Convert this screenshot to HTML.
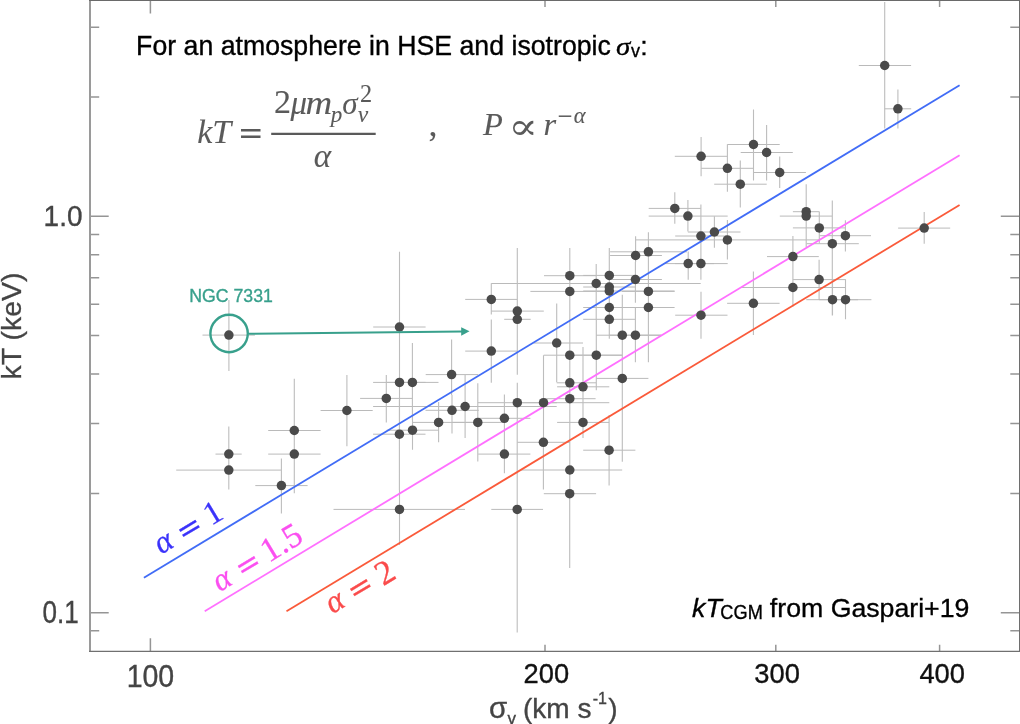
<!DOCTYPE html>
<html><head><meta charset="utf-8"><title>kT vs sigma_v</title><style>
html,body{margin:0;padding:0;background:#fff;}
body{width:1020px;height:724px;overflow:hidden;}
svg{display:block;}
</style></head><body>
<svg width="1020" height="724" viewBox="0 0 1020 724">
<rect width="1020" height="724" fill="#fff"/>
<path d="M202.5 335.1H254.9M215.5 454.1H241.7M176.2 470.1H281.2M255.3 485.6H307.6M268.2 430.5H320.6M268.2 454.1H320.6M320.6 410.5H372.7M360.1 398.4H412.4M373.2 327H425.6M373.1 382.4H425.6M386 382.4H438.5M373.1 434.2H425.5M386.7 430.2H438.6M333.5 509.4H465M412.5 422.4H477.8M425.7 374.6H478.2M425.5 410.3H478.8M373.1 406.5H556.7M452 422.4H504.4M477.8 418.3H530.4M478.2 454.1H530.4M477.8 402.7H556.9M491.3 509.4H543M465.2 299.4H517.3M465.2 351.1H517.3M491.3 311.1H543.8M504.2 319.3H530.7M544 275.7H596M583.2 275.4H635.4M491.3 283.5H700.7M610.1 279.5H661.9M530.4 291.4H609.3M583.2 287H635.4M583.2 291H674.6M622 291.4H674.6M583.2 307.5H635.4M622 307.5H674.6M583.2 319.3H635.4M596.2 335.2H661.5M609 335.2H661.5M675.2 315.2H727.5M533.5 343H583M543.7 355.2H622.3M570 355.2H622.3M596.2 378.4H648.4M556.7 382.8H596M557.1 386.8H609.3M543.7 398.7H595.6M517.3 402.7H609.3M557.1 422.4H609.1M517.3 442.3H569.8M583.2 450.2H635.4M521 470H622.2M543.8 493.7H596.1M610.1 255.5H661.9M610.1 251.8H687M648.7 208.4H700.9M648.7 216.1H727.7M675.2 236H727M687.9 232H740.5M636 239.9H819.6M663.6 263.6H714M675 263.6H727.7M674.8 156.3H727.4M701.1 168.3H753.2M727.4 144.5H779.7M740.7 152.5H792.8M753.5 172.5H805.9M714.2 184.2H766.7M858.8 65.5H911.1M884.7 108.8H911.2M792.9 211.7H819.6M779.8 216.1H832.1M792.9 227.9H845.1M819.6 235.7H871M806.6 243.7H858.8M767 256.6H818.8M792.9 279.6H845.5M740.4 287.5H845.5M806.3 299.7H858M819 299.7H871.4M727.1 303.3H779.6M898.1 228.1H950.2" stroke="#bababa" stroke-width="1" fill="none"/>
<path d="M228.9 300V371M228.8 426.5V462M228.8 462V489.5M281.4 458.4V513.6M294.3 378.8V442M294.3 442V493.3M346.9 374.9V446.3M386.3 374.9V422.4M399.5 251.8V360M399.5 360V434M412.4 343V420M399.4 400V490M412.5 410V449.7M399.5 490V545M438.6 401.9V442.3M451.6 339.4V395M452 395V433.6M465.1 374.9V437.9M477.8 383.2V461.6M504.4 394.6V440M504.4 440V473.3M517.3 382.8V420M517.2 420V632.5M491.3 283.3V314.6M491.3 319.6V382.8M517.3 248.1V315M517.3 315V374.7M569.8 248.1V283M609.3 248.1V283M596.2 264V320M635.4 262V302.8M569.8 283V320M609.3 283V300M609.3 285V310M648.4 270V305M609.3 300V330M648.4 300V362.3M609.3 310V338.7M622.3 294.7V360M635.4 307.3V362.3M701 291.8V338.7M556.7 303.4V382.2M569.8 320V382M596.3 320V390.3M622.3 360V461.8M569.8 360V398.7M583 347.1V410M569.8 382V430M543.5 355.2V442M583 400V437.9M543.4 442V489.5M609.1 414.9V485.4M569.8 430V493.7M569.7 470V568M635.6 236.3V262M648.4 232.2V270M674.8 192.2V223.8M687.9 200.1V231.6M700.9 204.5V250M714.4 216.3V247.8M727.4 220V259.6M688.2 251.5V279.8M700.9 250V279.8M701.1 137V176.2M727.4 144.2V191.8M753.5 109.4V180.4M766.6 124.9V180.4M779.7 156.6V187.9M740.3 160.5V207.4M884.7 2.1V128.5M897.9 89.5V128.5M806.2 184.2V214M806.2 214V247.2M819.3 212.1V243.4M845.4 220.2V251.5M832.3 200.5V315.4M792.9 236V306.8M819.1 259.7V299.7M792.9 270V306.8M832.5 280V315.4M845.5 279.3V319.3M753.4 271.5V335M924.2 212.1V243.8" stroke="#bdbdbd" stroke-width="1.1" fill="none"/>
<path d="M143.9 577.8 L959.6 85.3" stroke="#416cf6" stroke-width="1.8" fill="none"/>
<path d="M204.7 611.3 L959.6 155.3" stroke="#ff70ff" stroke-width="1.8" fill="none"/>
<path d="M286.5 611.3 L959.6 205" stroke="#fa5a3a" stroke-width="1.8" fill="none"/>
<g fill="#4a4a4a"><circle cx="228.9" cy="335.1" r="4.75"/><circle cx="228.8" cy="454.1" r="4.75"/><circle cx="228.8" cy="470.1" r="4.75"/><circle cx="281.4" cy="485.6" r="4.75"/><circle cx="294.3" cy="430.5" r="4.75"/><circle cx="294.3" cy="454.1" r="4.75"/><circle cx="346.9" cy="410.5" r="4.75"/><circle cx="386.3" cy="398.4" r="4.75"/><circle cx="399.5" cy="327" r="4.75"/><circle cx="399.5" cy="382.4" r="4.75"/><circle cx="412.4" cy="382.4" r="4.75"/><circle cx="399.4" cy="434.2" r="4.75"/><circle cx="412.5" cy="430.2" r="4.75"/><circle cx="399.5" cy="509.4" r="4.75"/><circle cx="438.6" cy="422.4" r="4.75"/><circle cx="451.6" cy="374.6" r="4.75"/><circle cx="452" cy="410.3" r="4.75"/><circle cx="465.1" cy="406.5" r="4.75"/><circle cx="477.8" cy="422.4" r="4.75"/><circle cx="504.4" cy="418.3" r="4.75"/><circle cx="504.4" cy="454.1" r="4.75"/><circle cx="517.3" cy="402.7" r="4.75"/><circle cx="517.2" cy="509.4" r="4.75"/><circle cx="491.3" cy="299.4" r="4.75"/><circle cx="491.3" cy="351.1" r="4.75"/><circle cx="517.3" cy="311.1" r="4.75"/><circle cx="517.3" cy="319.3" r="4.75"/><circle cx="569.8" cy="275.7" r="4.75"/><circle cx="609.3" cy="275.4" r="4.75"/><circle cx="596.2" cy="283.5" r="4.75"/><circle cx="635.4" cy="279.5" r="4.75"/><circle cx="569.8" cy="291.4" r="4.75"/><circle cx="609.3" cy="287" r="4.75"/><circle cx="609.3" cy="291" r="4.75"/><circle cx="648.4" cy="291.4" r="4.75"/><circle cx="609.3" cy="307.5" r="4.75"/><circle cx="648.4" cy="307.5" r="4.75"/><circle cx="609.3" cy="319.3" r="4.75"/><circle cx="622.3" cy="335.2" r="4.75"/><circle cx="635.4" cy="335.2" r="4.75"/><circle cx="701" cy="315.2" r="4.75"/><circle cx="556.7" cy="343" r="4.75"/><circle cx="569.8" cy="355.2" r="4.75"/><circle cx="596.3" cy="355.2" r="4.75"/><circle cx="622.3" cy="378.4" r="4.75"/><circle cx="569.8" cy="382.8" r="4.75"/><circle cx="583" cy="386.8" r="4.75"/><circle cx="569.8" cy="398.7" r="4.75"/><circle cx="543.5" cy="402.7" r="4.75"/><circle cx="583" cy="422.4" r="4.75"/><circle cx="543.4" cy="442.3" r="4.75"/><circle cx="609.1" cy="450.2" r="4.75"/><circle cx="569.8" cy="470" r="4.75"/><circle cx="569.7" cy="493.7" r="4.75"/><circle cx="635.6" cy="255.5" r="4.75"/><circle cx="648.4" cy="251.8" r="4.75"/><circle cx="674.8" cy="208.4" r="4.75"/><circle cx="687.9" cy="216.1" r="4.75"/><circle cx="700.9" cy="236" r="4.75"/><circle cx="714.4" cy="232" r="4.75"/><circle cx="727.4" cy="239.9" r="4.75"/><circle cx="688.2" cy="263.6" r="4.75"/><circle cx="700.9" cy="263.6" r="4.75"/><circle cx="701.1" cy="156.3" r="4.75"/><circle cx="727.4" cy="168.3" r="4.75"/><circle cx="753.5" cy="144.5" r="4.75"/><circle cx="766.6" cy="152.5" r="4.75"/><circle cx="779.7" cy="172.5" r="4.75"/><circle cx="740.3" cy="184.2" r="4.75"/><circle cx="884.7" cy="65.5" r="4.75"/><circle cx="897.9" cy="108.8" r="4.75"/><circle cx="806.2" cy="211.7" r="4.75"/><circle cx="806.2" cy="216.1" r="4.75"/><circle cx="819.3" cy="227.9" r="4.75"/><circle cx="845.4" cy="235.7" r="4.75"/><circle cx="832.3" cy="243.7" r="4.75"/><circle cx="792.9" cy="256.6" r="4.75"/><circle cx="819.1" cy="279.6" r="4.75"/><circle cx="792.9" cy="287.5" r="4.75"/><circle cx="832.5" cy="299.7" r="4.75"/><circle cx="845.5" cy="299.7" r="4.75"/><circle cx="753.4" cy="303.3" r="4.75"/><circle cx="924.2" cy="228.1" r="4.75"/></g>
<circle cx="229.1" cy="333.5" r="18.7" fill="none" stroke="#38a08c" stroke-width="2.4"/>
<path d="M248.9 333.8 L462 331.4" stroke="#38a08c" stroke-width="2" fill="none"/>
<path d="M469.5 331.3 L461.2 327.3 L461.2 335.7 Z" fill="#38a08c"/>
<text x="189.27" y="302.4" font-family="Liberation Sans, Arial, sans-serif" font-size="17.7" fill="#38a08c"  stroke="#38a08c" stroke-width="0.35">NGC 7331</text>
<path d="M90 630.8h9.2M1019.5 630.8h-9.2M90 493.4h9.2M1019.5 493.4h-9.2M90 423.6h9.2M1019.5 423.6h-9.2M90 374.0h9.2M1019.5 374.0h-9.2M90 335.6h9.2M1019.5 335.6h-9.2M90 304.2h9.2M1019.5 304.2h-9.2M90 277.7h9.2M1019.5 277.7h-9.2M90 254.7h9.2M1019.5 254.7h-9.2M90 234.4h9.2M1019.5 234.4h-9.2M90 97.0h9.2M1019.5 97.0h-9.2M90 27.2h9.2M1019.5 27.2h-9.2M90 612.7h18.7M1019.5 612.7h-18.7M90 216.3h18.7M1019.5 216.3h-18.7M150.4 651.3v-13M150.4 0.5v13M545.0 651.3v-6.5M545.0 0.5v6.5M775.8 651.3v-6.5M775.8 0.5v6.5M939.6 651.3v-6.5M939.6 0.5v6.5" stroke="#959595" stroke-width="1.5" fill="none"/>
<path d="M90 0 V652" stroke="#9a9a9a" stroke-width="2" fill="none"/>
<path d="M1019.5 0 V652" stroke="#6e6e6e" stroke-width="1" fill="none"/>
<path d="M89 0.5 H1020" stroke="#6a6a6a" stroke-width="1" fill="none"/>
<path d="M89 651.3 H1020" stroke="#707070" stroke-width="1.3" fill="none"/>
<text transform="translate(43.58,225.6) scale(1.0,1.065)" font-family="Liberation Sans, Arial, sans-serif" font-size="28" fill="#444"  stroke="#444" stroke-width="0.35">1.0</text><text transform="translate(42.46,622.6) scale(0.93,1.1)" font-family="Liberation Sans, Arial, sans-serif" font-size="28" fill="#444"  stroke="#444" stroke-width="0.35">0.1</text><text transform="translate(126.68,686.85) scale(1.0,1.07)" font-family="Liberation Sans, Arial, sans-serif" font-size="28.5" fill="#444"  stroke="#444" stroke-width="0.35">100</text><text x="523.58" y="682.6" font-family="Liberation Sans, Arial, sans-serif" font-size="27.3" fill="#111"  stroke="#111" stroke-width="0.35">200</text><text x="754.35" y="682.6" font-family="Liberation Sans, Arial, sans-serif" font-size="27.3" fill="#111"  stroke="#111" stroke-width="0.35">300</text><text x="919.43" y="682.6" font-family="Liberation Sans, Arial, sans-serif" font-size="27.3" fill="#111"  stroke="#111" stroke-width="0.35">400</text>
<text transform="translate(20.9,379.58) rotate(-90)" font-family="Liberation Sans, Arial, sans-serif" font-size="28.5" fill="#444" stroke="#444" stroke-width="0.3">kT (keV)</text>
<text x="488.95" y="717.95" font-family="Liberation Sans, Arial, sans-serif" font-size="29.5" fill="#444"  stroke="#444" stroke-width="0.35">σ</text><text x="507.48" y="724.2" font-family="Liberation Sans, Arial, sans-serif" font-size="17" fill="#444"  stroke="#444" stroke-width="0.35">v</text><text x="523.05" y="718.2" font-family="Liberation Sans, Arial, sans-serif" font-size="28" fill="#444"  stroke="#444" stroke-width="0.35">(km s</text><text x="592.65" y="703.8" font-family="Liberation Sans, Arial, sans-serif" font-size="16" fill="#444"  stroke="#444" stroke-width="0.35">-1</text><text x="608.25" y="718.2" font-family="Liberation Sans, Arial, sans-serif" font-size="28" fill="#444"  stroke="#444" stroke-width="0.35">)</text>
<text transform="translate(136.12,54.9) scale(1.0,1.045)" font-family="Liberation Sans, Arial, sans-serif" font-size="26.7" fill="#000"  stroke="#000" stroke-width="0.35">For an atmosphere in HSE and isotropic</text><text transform="translate(616.02,54.55) scale(1.0,0.9)" font-family="Liberation Serif, Times New Roman, serif" font-style="italic" font-size="29" fill="#000"  stroke="#000" stroke-width="0.35">σ</text><text x="631.08" y="56.8" font-family="Liberation Sans, Arial, sans-serif" font-size="18" fill="#000"  stroke="#000" stroke-width="0.35">v</text><text x="640.37" y="54.8" font-family="Liberation Sans, Arial, sans-serif" font-size="26.7" fill="#000"  stroke="#000" stroke-width="0.35">:</text>
<text transform="translate(197.17,142.5) scale(1.03,1.0)" font-family="Liberation Serif, Times New Roman, serif" font-style="italic" font-size="33" fill="#5a5a5a"  stroke="#5a5a5a" stroke-width="0.1">kT</text><text x="237.85" y="143.6" font-family="DejaVu Serif, serif" font-size="31" fill="#5a5a5a"  stroke="#5a5a5a" stroke-width="0.1">=</text><text x="273.9" y="113.4" font-family="Liberation Serif, Times New Roman, serif" font-size="34" fill="#5a5a5a"  stroke="#5a5a5a" stroke-width="0.1">2</text><text x="290.4" y="113.7" font-family="Liberation Serif, Times New Roman, serif" font-style="italic" font-size="33" fill="#5a5a5a"  stroke="#5a5a5a" stroke-width="0.1">μ</text><text x="305.75" y="113.7" font-family="Liberation Serif, Times New Roman, serif" font-style="italic" font-size="33" fill="#5a5a5a" transform="translate(307,113.7) scale(1.12,1) translate(-307,-113.7)" stroke="#5a5a5a" stroke-width="0.1">m</text><text x="330.68" y="121.5" font-family="Liberation Serif, Times New Roman, serif" font-style="italic" font-size="23" fill="#5a5a5a"  stroke="#5a5a5a" stroke-width="0.1">p</text><text x="342.32" y="113.6" font-family="Liberation Serif, Times New Roman, serif" font-style="italic" font-size="31" fill="#5a5a5a"  stroke="#5a5a5a" stroke-width="0.1">σ</text><text x="357.72" y="121.6" font-family="Liberation Serif, Times New Roman, serif" font-style="italic" font-size="23.5" fill="#5a5a5a"  stroke="#5a5a5a" stroke-width="0.1">v</text><text x="360.05" y="101.6" font-family="Liberation Serif, Times New Roman, serif" font-size="24.2" fill="#5a5a5a"  stroke="#5a5a5a" stroke-width="0.1">2</text><path d="M271.2 133.8H375.7" stroke="#5a5a5a" stroke-width="2.2"/><text x="313.8" y="167.4" font-family="Liberation Serif, Times New Roman, serif" font-style="italic" font-size="33" fill="#5a5a5a"  stroke="#5a5a5a" stroke-width="0.1">α</text><text x="428.62" y="135.6" font-family="Liberation Serif, Times New Roman, serif" font-size="36" fill="#5a5a5a"  stroke="#5a5a5a" stroke-width="0.1">,</text><text x="483.12" y="135.3" font-family="Liberation Serif, Times New Roman, serif" font-style="italic" font-size="32.5" fill="#5a5a5a"  stroke="#5a5a5a" stroke-width="0.1">P</text><text transform="translate(508.14,139.1) scale(1.19,1)" font-family="DejaVu Serif, serif" font-size="37" fill="#5a5a5a">∝</text><text x="543.62" y="135.3" font-family="Liberation Serif, Times New Roman, serif" font-style="italic" font-size="32.5" fill="#5a5a5a"  stroke="#5a5a5a" stroke-width="0.1">r</text><text x="557.85" y="125.3" font-family="Liberation Serif, Times New Roman, serif" font-size="26.5" fill="#5a5a5a"  stroke="#5a5a5a" stroke-width="0.1">−</text><text x="573.78" y="123.2" font-family="Liberation Serif, Times New Roman, serif" font-style="italic" font-size="22.5" fill="#5a5a5a"  stroke="#5a5a5a" stroke-width="0.1">α</text><text transform="translate(161.19,554.76) rotate(-31.1)" font-family="Liberation Serif, Times New Roman, serif" font-style="italic" font-size="32" fill="#3a32fa" stroke="#3a32fa" stroke-width="0.3">α</text><text transform="translate(183.47,542.92) rotate(-31.1)" font-family="DejaVu Serif, serif" font-size="30" fill="#3a32fa" stroke="#3a32fa" stroke-width="0.3">=</text><text transform="translate(211.32,525.93) rotate(-31.1)" font-family="Liberation Serif, Times New Roman, serif" font-size="32.5" fill="#3a32fa" stroke="#3a32fa" stroke-width="0.3">1</text><text transform="translate(219.74,592.36) rotate(-31.1)" font-family="Liberation Serif, Times New Roman, serif" font-style="italic" font-size="32" fill="#fb4ff0" stroke="#fb4ff0" stroke-width="0.3">α</text><text transform="translate(242.22,579.27) rotate(-31.1)" font-family="DejaVu Serif, serif" font-size="30" fill="#fb4ff0" stroke="#fb4ff0" stroke-width="0.3">=</text><text transform="translate(268.79,563.01) rotate(-31.1)" font-family="Liberation Serif, Times New Roman, serif" font-size="34" fill="#fb4ff0" stroke="#fb4ff0" stroke-width="0.3">1.5</text><text transform="translate(332.44,614.26) rotate(-31.1)" font-family="Liberation Serif, Times New Roman, serif" font-style="italic" font-size="32" fill="#fa4b4b" stroke="#fa4b4b" stroke-width="0.3">α</text><text transform="translate(354.62,602.27) rotate(-31.1)" font-family="DejaVu Serif, serif" font-size="30" fill="#fa4b4b" stroke="#fa4b4b" stroke-width="0.3">=</text><text transform="translate(383.3,586.33) rotate(-31.1)" font-family="Liberation Serif, Times New Roman, serif" font-size="34" fill="#fa4b4b" stroke="#fa4b4b" stroke-width="0.3">2</text>
<text x="692.05" y="616.7" font-family="Liberation Sans, Arial, sans-serif" font-style="italic" font-size="26.7" fill="#000"  stroke="#000" stroke-width="0.35">kT</text><text transform="translate(720.37,618.9) scale(0.933,1.0)" font-family="Liberation Sans, Arial, sans-serif" font-size="19.5" fill="#000"  stroke="#000" stroke-width="0.35">CGM</text><text x="769.87" y="616.7" font-family="Liberation Sans, Arial, sans-serif" font-size="26.7" fill="#000"  stroke="#000" stroke-width="0.35">from Gaspari+19</text>
</svg>
</body></html>
